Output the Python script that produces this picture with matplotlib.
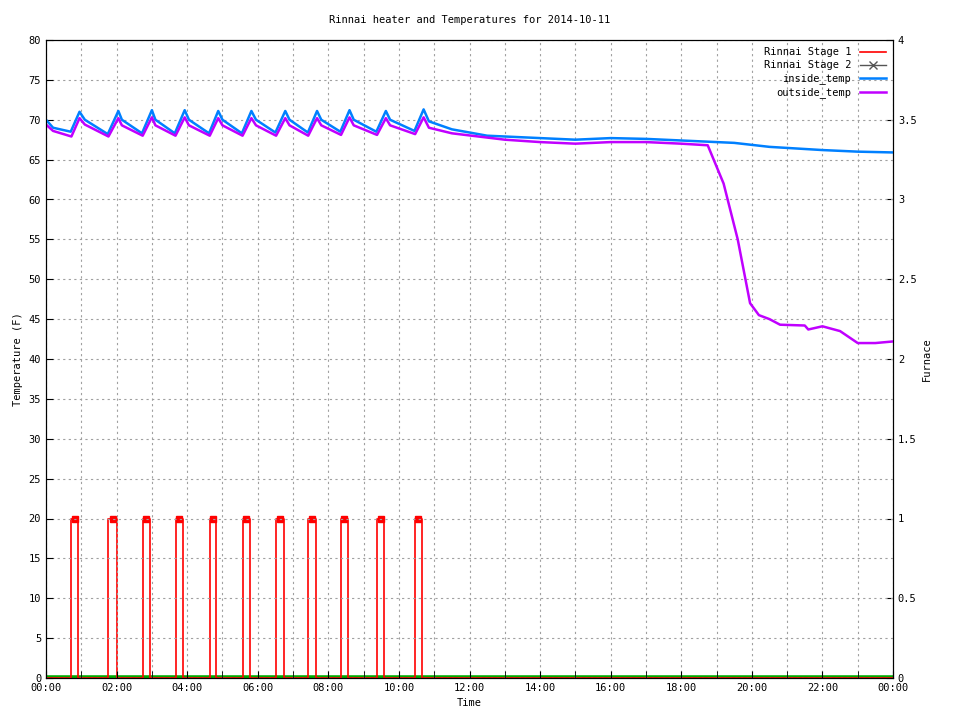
import matplotlib
matplotlib.use("Agg")
import matplotlib.pyplot as plt

plt.rcParams['font.family'] = ['DejaVu Sans Mono']
plt.rcParams['font.size'] = 7.5

# heater pulses (hours on/off), stage 1
on_times = [0.72, 1.77, 2.74, 3.67, 4.64, 5.57, 6.52, 7.43, 8.36, 9.38, 10.46]
off_times = [0.91, 2.00, 2.95, 3.89, 4.83, 5.77, 6.74, 7.64, 8.55, 9.59, 10.64]

# temperatures
in_hours = [0.0, 0.2, 0.7, 0.95, 1.1, 1.75, 2.05, 2.15, 2.72, 3.0, 3.1, 3.65, 3.93, 4.05, 4.62, 4.88, 5.0,
            5.55, 5.82, 5.95, 6.5, 6.78, 6.9, 7.42, 7.68, 7.8, 8.34, 8.6, 8.72, 9.36, 9.63, 9.75,
            10.44, 10.7, 10.85, 11.5, 12.5, 14.0, 15.0, 16.0, 17.0, 18.5, 19.5, 20.5, 22.0, 23.0, 24.0]
inside = [70.0, 69.0, 68.5, 71.0, 70.0, 68.2, 71.1, 70.0, 68.3, 71.2, 70.0, 68.3, 71.2, 70.0, 68.3, 71.1, 70.0,
          68.3, 71.1, 70.0, 68.4, 71.1, 70.0, 68.4, 71.1, 70.0, 68.5, 71.2, 70.0, 68.5, 71.1, 70.0,
          68.6, 71.3, 69.8, 68.8, 68.0, 67.7, 67.5, 67.7, 67.6, 67.3, 67.1, 66.6, 66.2, 66.0, 65.9]
out_hours = [0.0, 0.2, 0.72, 0.95, 1.1, 1.77, 2.05, 2.15, 2.74, 3.0, 3.1, 3.67, 3.93, 4.05, 4.64, 4.88, 5.0,
             5.57, 5.82, 5.95, 6.52, 6.78, 6.9, 7.43, 7.68, 7.8, 8.36, 8.6, 8.72, 9.38, 9.63, 9.75,
             10.46, 10.7, 10.85, 11.5, 13.0, 14.0, 15.0, 16.0, 17.0, 18.0, 18.75, 19.2, 19.6, 19.95, 20.2,
             20.5, 20.8, 21.5, 21.6, 22.0, 22.5, 23.0, 23.5, 24.0]
outside = [69.4, 68.6, 67.9, 70.2, 69.4, 67.9, 70.2, 69.3, 68.0, 70.3, 69.3, 68.0, 70.3, 69.3, 68.0, 70.2, 69.3,
           68.0, 70.2, 69.3, 68.0, 70.2, 69.3, 68.0, 70.2, 69.3, 68.1, 70.3, 69.3, 68.1, 70.2, 69.3,
           68.2, 70.3, 69.0, 68.3, 67.5, 67.2, 67.0, 67.2, 67.2, 67.0, 66.8, 62.0, 55.0, 47.0, 45.5,
           45.0, 44.3, 44.2, 43.7, 44.1, 43.5, 42.0, 42.0, 42.2]

ticks_h = list(range(0, 25, 2))
tick_labels = ["%02d:00" % (h % 24) for h in ticks_h]

fig = plt.figure(figsize=(9.6, 7.2), dpi=100)
ax = fig.add_axes([46/960, 42/720, 847/960, 638/720])
ax2 = ax.twinx()

# stage 1 step signal
sx, sy = [0.0], [0.0]
for a, b in zip(on_times, off_times):
    sx += [a, a, b, b]
    sy += [0, 1, 1, 0]
sx.append(24.0); sy.append(0)
ax2.plot(sx, sy, color='red', lw=1.2, label='Rinnai Stage 1', zorder=3)
mids = [(a + b) / 2 for a, b in zip(on_times, off_times)]
ax2.plot(mids, [1]*len(mids), 's', color='red', ms=5, zorder=3)
ax2.plot([0, 24], [0, 0], color='#00aa00', lw=4, zorder=2)
ax2.plot([], [], color='#555555', lw=1, marker='x', label='Rinnai Stage 2')

ax.plot(in_hours, inside, color='#0080ff', lw=1.8, label='inside_temp')
ax.plot(out_hours, outside, color='#c000ff', lw=1.8, label='outside_temp')

ax.set_xlim(0, 24)
ax.set_ylim(0, 80)
ax2.set_ylim(0, 4)
ax.set_yticks(range(0, 81, 5))
ax2.set_yticks([0, 0.5, 1, 1.5, 2, 2.5, 3, 3.5, 4])
ax2.set_yticklabels(['0', '0.5', '1', '1.5', '2', '2.5', '3', '3.5', '4'])
ax.set_xticks(ticks_h)
ax.set_xticks(range(1, 24, 2), minor=True)
ax.set_xticklabels(tick_labels)
ax.grid(True, which='both', color='#a0a0a0', ls=(0, (2, 3)), lw=0.8)
for a in (ax, ax2):
    a.tick_params(direction='in', length=5, which='both', colors='black')
ax.set_xlabel('Time')
ax.set_ylabel('Temperature (F)')
ax2.set_ylabel('Furnace')
ax.set_title('Rinnai heater and Temperatures for 2014-10-11', fontsize=7.5, pad=12)
ax.set_zorder(ax2.get_zorder() + 1)
ax.patch.set_visible(False)

h1, l1 = ax2.get_legend_handles_labels()
h2, l2 = ax.get_legend_handles_labels()
ax.legend(h1 + h2, l1 + l2, loc='upper right', frameon=False, markerfirst=False,
          handlelength=2.5, borderaxespad=0.3, labelspacing=0.3)

fig.savefig('out.png', dpi=100)
